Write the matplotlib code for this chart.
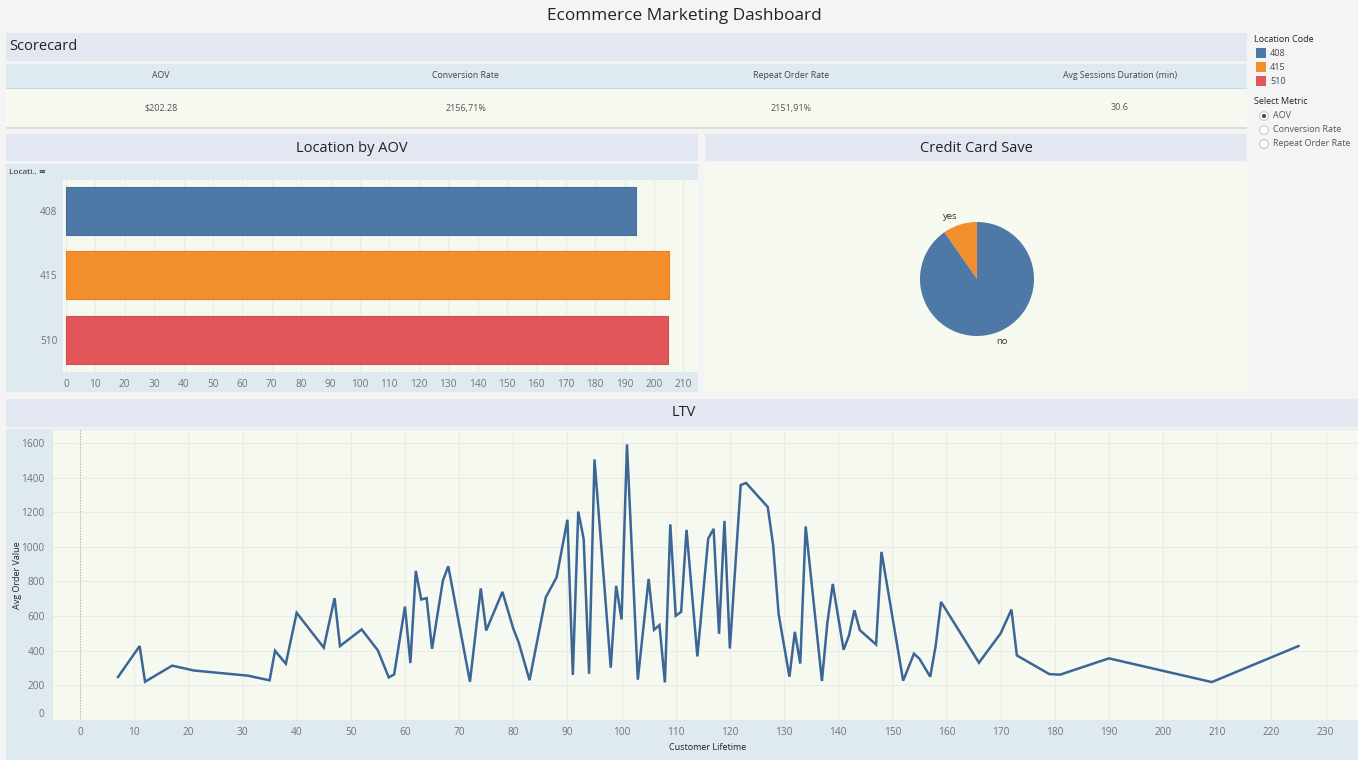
import matplotlib.pyplot as plt
from matplotlib.patches import Rectangle, Circle
import numpy as np

plt.rcParams['font.family'] = ['Open Sans', 'DejaVu Sans']

# scorecard
score_labels = ['AOV', 'Conversion Rate', 'Repeat Order Rate', 'Avg Sessions Duration (min)']
score_values = ['$202.28', '2156,71%', '2151,91%', '30.6']

# location by AOV
locations = ['408', '415', '510']
location_aov = [194.0, 205.3, 204.8]
location_colors = ['#4e79a7', '#f28e2b', '#e15759']
location_edges = ['#44709c', '#e8801c', '#d84c50']

# credit card save
cc_labels = ['yes', 'no']
cc_share = [9.7, 90.3]

# LTV
lifetime = [7, 11, 12, 17, 21, 31, 35, 36, 38, 40, 45, 47, 48, 52, 55, 57, 58, 60, 61, 62,
            63, 64, 65, 67, 68, 72, 74, 75, 78, 80, 81, 83, 86, 88, 90, 91, 92, 93, 94, 95,
            98, 99, 100, 101, 103, 105, 106, 107, 108, 109, 110, 111, 112, 114, 116, 117,
            118, 119, 120, 122, 123, 127, 128, 129, 131, 132, 133, 134, 137, 138, 139, 141,
            142, 143, 144, 147, 148, 152, 154, 155, 157, 158, 159, 166, 170, 172, 173, 179,
            181, 190, 209, 225]
avg_order = [248, 427, 221, 314, 286, 256, 229, 400, 325, 619, 418, 704, 427, 523, 402, 246,
             263, 655, 329, 861, 696, 704, 411, 805, 888, 221, 760, 517, 740, 528, 448, 230,
             708, 824, 1157, 260, 1204, 1046, 267, 1505, 302, 775, 581, 1592, 233, 815, 521,
             548, 217, 1130, 602, 625, 1098, 367, 1048, 1104, 498, 1150, 413, 1357, 1369,
             1230, 1007, 613, 250, 509, 326, 1118, 225, 560, 786, 406, 488, 634, 519, 436,
             971, 227, 383, 354, 250, 427, 682, 331, 500, 638, 373, 265, 262, 356, 219, 427]

metrics = ['AOV', 'Conversion Rate', 'Repeat Order Rate']

W, H = 1358, 760
BG = '#f4f4f4'
HEAD = '#e3e7f1'
AXBLUE = '#deeaf0'
CREAM = '#f6f9f0'
GRID = '#ebebe6'
TICK = '#737373'
DARK = '#222222'


def rect(x0, y0, x1, y1):
    return [x0 / W, 1 - y1 / H, (x1 - x0) / W, (y1 - y0) / H]


fig = plt.figure(figsize=(W / 100, H / 100), dpi=100, facecolor=BG)

# pixel canvas for panel backgrounds, text and legend
bg = fig.add_axes([0, 0, 1, 1])
bg.set_xlim(0, W)
bg.set_ylim(H, 0)
bg.axis('off')


def band(x0, y0, x1, y1, color):
    bg.add_patch(Rectangle((x0, y0), x1 - x0, y1 - y0, facecolor=color, edgecolor='none'))


bg.text(684, 16, 'Ecommerce Marketing Dashboard', ha='center', va='center', fontsize=12.4, color=DARK)

# scorecard
band(6, 33, 1247, 61, HEAD)
bg.text(9, 47, 'Scorecard', ha='left', va='center', fontsize=10.5, color=DARK)
band(6, 64, 1247, 88, AXBLUE)
band(6, 88, 1247, 89, '#c9d9e3')
band(6, 89, 1247, 127, CREAM)
band(6, 127, 1247, 129, '#dcdcdc')
score_x = [161, 466, 791, 1120]
for x, lab, val in zip(score_x, score_labels, score_values):
    bg.text(x, 76, lab, ha='center', va='center', fontsize=6.3, color='#444444')
    bg.text(x, 108, val, ha='center', va='center', fontsize=6.5, color='#555555')

# panel bands
band(6, 134, 698, 161, HEAD)
bg.text(352, 148, 'Location by AOV', ha='center', va='center', fontsize=10.5, color=DARK)
band(6, 164, 698, 392, AXBLUE)
bg.text(9, 172, 'Locati.. \u2261', ha='left', va='center', fontsize=6, color=DARK)

band(705, 134, 1247, 161, HEAD)
bg.text(976, 148, 'Credit Card Save', ha='center', va='center', fontsize=10.5, color=DARK)
band(705, 163, 1247, 392, CREAM)

band(6, 399, 1358, 427, HEAD)
bg.text(684, 413, 'LTV', ha='center', va='center', fontsize=10.5, color=DARK)
band(6, 429, 1358, 760, AXBLUE)
bg.text(17, 575, 'Avg Order Value', ha='center', va='center', rotation=90, fontsize=6.5, color=DARK)
bg.text(708, 748, 'Customer Lifetime', ha='center', va='center', fontsize=6.5, color=DARK)

# legend
bg.text(1254, 39, 'Location Code', ha='left', va='center', fontsize=6.5, color=DARK)
for i, (lab, col) in enumerate(zip(locations, location_colors)):
    y = 53 + 14 * i
    bg.add_patch(Rectangle((1256, y - 5), 10, 10, facecolor=col, edgecolor='none'))
    bg.text(1270, y, lab, ha='left', va='center', fontsize=6.5, color='#444444')
bg.text(1254, 101, 'Select Metric', ha='left', va='center', fontsize=6.5, color=DARK)
for i, lab in enumerate(metrics):
    y = 116 + 14 * i
    bg.add_patch(Circle((1264, y), 4.3, facecolor='white', edgecolor='#c8c8c8', lw=0.8))
    if i == 0:
        bg.add_patch(Circle((1264, y), 2.0, facecolor='#444444', edgecolor='none'))
    bg.text(1273, y, lab, ha='left', va='center', fontsize=6.5, color='#555555')

# bar chart
ax1 = fig.add_axes(rect(63, 180, 698, 372), facecolor=CREAM)
ypos = np.arange(len(locations))
ax1.barh(ypos, location_aov, height=0.745, color=location_colors,
         edgecolor=location_edges, linewidth=0.8, zorder=3)
ax1.set_xlim(-1, 215)
ax1.set_ylim(2.5, -0.48)
ax1.set_xticks(np.arange(0, 211, 10))
ax1.set_yticks(ypos)
ax1.set_yticklabels(locations)
ax1.grid(axis='x', color=GRID, lw=0.8, zorder=0)
ax1.tick_params(length=0, labelsize=7.3, labelcolor=TICK)
ax1.tick_params(axis='x', pad=5)
ax1.tick_params(axis='y', pad=4)
for s in ax1.spines.values():
    s.set_visible(False)

# pie
ax2 = fig.add_axes(rect(902, 204, 1052, 354))
ax2.pie(cc_share, labels=cc_labels, colors=['#f28e2b', '#4e79a7'], startangle=90,
        counterclock=True, labeldistance=1.15, textprops={'fontsize': 6.8, 'color': '#333333'},
        wedgeprops={'linewidth': 0})
ax2.set_xlim(-75 / 57, 75 / 57)
ax2.set_ylim(-75 / 57, 75 / 57)

# LTV line
ax3 = fig.add_axes(rect(53, 430, 1358, 720), facecolor=CREAM)
ax3.plot(lifetime, avg_order, color='#3b6696', lw=1.8, zorder=3, solid_joinstyle='miter')
ax3.axvline(0, color='#b0b0b0', lw=0.8, ls=(0, (1, 1.5)), zorder=2)
ax3.set_xlim(-5, 236)
ax3.set_ylim(0, 1675)
ax3.set_xticks(np.arange(0, 231, 10))
ax3.set_yticks(np.arange(0, 1601, 200))
ax3.grid(color=GRID, lw=0.8, zorder=0)
ax3.tick_params(length=0, labelsize=7.3, labelcolor=TICK)
ax3.tick_params(axis='x', pad=5)
ax3.tick_params(axis='y', pad=6)
for s in ax3.spines.values():
    s.set_visible(False)
# Tableau nudges the bottom label up to keep it inside the pane
ax3.get_yticklabels()[0].set_va('bottom')

fig.savefig('out.png', dpi=100, facecolor=BG)
